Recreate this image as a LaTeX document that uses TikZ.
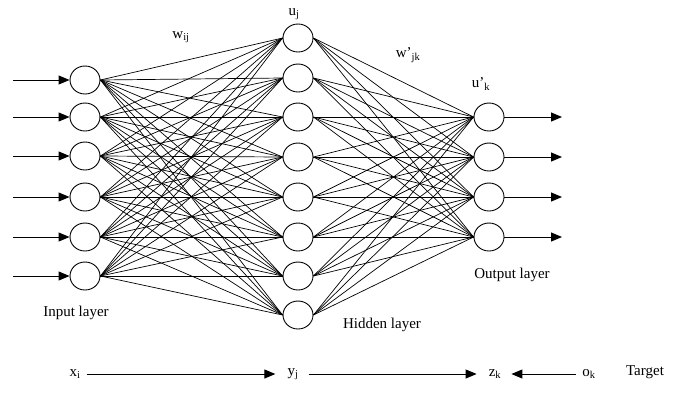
\documentclass[tikz,border=0pt]{standalone}
\usepackage{fontspec}
\setmainfont{Liberation Serif}
\usetikzlibrary{arrows.meta,shapes.geometric}
\begin{document}
\begin{tikzpicture}[x=1pt,y=-1pt,
  neuron/.style={draw,line width=0.9pt,ellipse,minimum width=30pt,minimum height=28pt,inner sep=0pt},
  link/.style={line width=0.7pt},
  arr/.style={line width=1pt,-{Triangle[length=11pt,width=9pt]}},
  lbl/.style={font=\fontsize{15}{17}\selectfont,inner sep=0pt}]
\useasboundingbox (0,0) rectangle (700,407);
\foreach \i/\y in {1/80,2/117,3/156,4/197,5/237,6/276}
  \node[neuron] (in\i) at (85,\y) {};
\foreach \j/\y in {1/38,2/78,3/117,4/157,5/197,6/237,7/276,8/315}
  \node[neuron] (h\j) at (298,\y) {};
\foreach \k/\y in {1/117,2/157,3/197,4/237}
  \node[neuron] (o\k) at (489,\y) {};
\foreach \i in {1,...,6}\foreach \j in {1,...,8}
  \draw[link] (in\i.east) -- (h\j.west);
\foreach \j in {1,...,8}\foreach \k in {1,...,4}
  \draw[link] (h\j.east) -- (o\k.west);
\foreach \i/\y in {1/80,2/117,3/156,4/197,5/237,6/276}{
  \coordinate (s\i) at (13,\y);
  \draw[arr] (s\i) -- (in\i.west);}
\foreach \k/\y in {1/117,2/157,3/197,4/237}{
  \coordinate (e\k) at (562,\y);
  \draw[arr] (o\k.east) -- (e\k);}
\node[lbl] (uj) at (294,14) {u\textsubscript{j}};
\node[lbl] (wij) at (181,37) {w\textsubscript{ij}};
\node[lbl] (wjk) at (408,55) {w’\textsubscript{jk}};
\node[lbl] (uk) at (481,84) {u’\textsubscript{k}};
\node[lbl] (il) at (76,313) {Input layer};
\node[lbl] (hl) at (382,325) {Hidden layer};
\node[lbl] (ol) at (512,275) {Output layer};
\node[lbl] (x) at (75,374) {x\textsubscript{i}};
\node[lbl] (y) at (293,374) {y\textsubscript{j}};
\node[lbl] (z) at (495,374) {z\textsubscript{k}};
\node[lbl] (ok) at (589,374) {o\textsubscript{k}};
\node[lbl] (t) at (645,372) {Target};
\draw[arr] ([xshift=6pt]x.east) -- ([xshift=-12pt]y.west);
\draw[arr] ([xshift=10pt]y.east) -- ([xshift=-12pt]z.west);
\draw[arr] ([xshift=-6pt]ok.west) -- ([xshift=10pt]z.east);
\end{tikzpicture}
\end{document}
